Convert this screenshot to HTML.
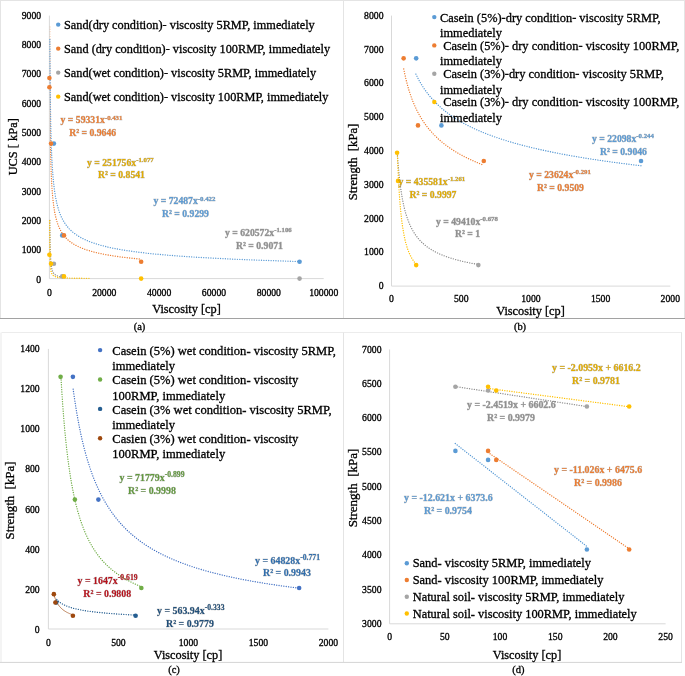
<!DOCTYPE html>
<html><head><meta charset="utf-8"><title>Figure</title>
<style>html,body{margin:0;padding:0;background:#fff;}svg{display:block;filter:blur(0.35px);}</style></head>
<body>
<svg width="685" height="676" viewBox="0 0 685 676" font-family="'Liberation Serif', 'Times New Roman', serif">
<rect width="685" height="676" fill="#fff"/>
<line x1="0.50" y1="0.00" x2="0.50" y2="318.50" stroke="#e4e4e4" stroke-width="1" />
<line x1="0.00" y1="0.50" x2="685.00" y2="0.50" stroke="#e4e4e4" stroke-width="1" />
<line x1="343.50" y1="0.00" x2="343.50" y2="318.50" stroke="#e4e4e4" stroke-width="1" />
<line x1="684.50" y1="0.00" x2="684.50" y2="318.50" stroke="#e4e4e4" stroke-width="1" />
<line x1="0.00" y1="318.50" x2="685.00" y2="318.50" stroke="#a2a2a2" stroke-width="1" />
<line x1="1.00" y1="332.50" x2="1.00" y2="662.00" stroke="#e9e9e9" stroke-width="1" />
<line x1="1.50" y1="332.50" x2="682.00" y2="332.50" stroke="#ececec" stroke-width="1" />
<line x1="343.50" y1="332.50" x2="343.50" y2="662.00" stroke="#e4e4e4" stroke-width="1" />
<line x1="681.50" y1="332.50" x2="681.50" y2="662.00" stroke="#e4e4e4" stroke-width="1" />
<line x1="0.00" y1="662.40" x2="682.00" y2="662.40" stroke="#d4d4d4" stroke-width="1" />
<polyline points="49.64,26.88 49.65,30.08 49.66,33.24 49.66,36.36 49.67,39.44 49.68,42.48 49.69,45.49 49.70,48.45 49.71,51.38 49.72,54.27 49.72,57.12 49.73,59.94 49.74,62.72 49.76,65.47 49.77,68.18 49.78,70.86 49.79,73.50 49.80,76.11 49.81,78.68 49.82,81.23 49.84,83.74 49.85,86.22 49.86,88.66 49.88,91.08 49.89,93.46 49.91,95.82 49.92,98.14 49.94,100.44 49.95,102.71 49.97,104.94 49.99,107.15 50.01,109.33 50.02,111.49 50.04,113.61 50.06,115.71 50.08,117.78 50.10,119.83 50.12,121.85 50.15,123.84 50.17,125.81 50.19,127.75 50.22,129.67 50.24,131.57 50.27,133.44 50.29,135.28 50.32,137.11 50.35,138.91 50.37,140.68 50.40,142.44 50.43,144.17 50.47,145.88 50.50,147.57 50.53,149.23 50.57,150.88 50.60,152.50 50.64,154.11 50.67,155.69 50.71,157.26 50.75,158.80 50.79,160.32 50.83,161.83 50.88,163.31 50.92,164.78 50.97,166.23 51.02,167.66 51.06,169.07 51.11,170.46 51.17,171.84 51.22,173.19 51.27,174.54 51.33,175.86 51.39,177.17 51.45,178.46 51.51,179.73 51.57,180.99 51.64,182.23 51.71,183.46 51.78,184.67 51.85,185.86 51.92,187.04 52.00,188.20 52.08,189.35 52.16,190.49 52.24,191.61 52.33,192.72 52.41,193.81 52.51,194.89 52.60,195.95 52.70,197.00 52.79,198.04 52.90,199.07 53.00,200.08 53.11,201.08 53.22,202.06 53.34,203.04 53.46,204.00 53.58,204.95 53.70,205.88 53.83,206.81 53.97,207.72 54.11,208.62 54.25,209.51 54.39,210.39 54.54,211.26 54.70,212.12 54.86,212.96 55.02,213.80 55.19,214.62 55.37,215.44 55.55,216.24 55.73,217.03 55.92,217.82 56.12,218.59 56.32,219.35 56.53,220.11 56.75,220.85 56.97,221.58 57.20,222.31 57.43,223.03 57.67,223.73 57.92,224.43 58.18,225.12 58.45,225.80 58.72,226.47 59.00,227.13 59.29,227.79 59.59,228.44 59.89,229.07 60.21,229.70 60.54,230.33 60.87,230.94 61.22,231.55 61.57,232.14 61.94,232.74 62.32,233.32 62.71,233.89 63.11,234.46 63.52,235.02 63.95,235.58 64.39,236.13 64.84,236.67 65.31,237.20 65.79,237.73 66.28,238.25 66.79,238.76 67.31,239.27 67.85,239.77 68.41,240.26 68.98,240.75 69.57,241.23 70.18,241.71 70.81,242.17 71.45,242.64 72.12,243.10 72.80,243.55 73.51,243.99 74.23,244.43 74.98,244.87 75.75,245.30 76.55,245.72 77.37,246.14 78.21,246.55 79.08,246.96 79.97,247.36 80.89,247.76 81.84,248.15 82.82,248.54 83.83,248.92 84.87,249.30 85.94,249.67 87.04,250.04 88.17,250.40 89.34,250.76 90.55,251.12 91.79,251.46 93.06,251.81 94.38,252.15 95.74,252.49 97.13,252.82 98.57,253.15 100.06,253.47 101.58,253.79 103.16,254.11 104.78,254.42 106.45,254.73 108.17,255.03 109.94,255.33 111.76,255.62 113.64,255.92 115.58,256.21 117.58,256.49 119.63,256.77 121.75,257.05 123.93,257.32 126.18,257.59 128.49,257.86 130.87,258.13 133.33,258.39 135.86,258.64 138.47,258.90 141.15,259.15" fill="none" stroke="#ED7D31" stroke-width="1.35" stroke-dasharray="0.01 2.4" stroke-linecap="round"/>
<line x1="49.40" y1="15.60" x2="49.40" y2="278.60" stroke="#d9d9d9" stroke-width="1" />
<line x1="49.40" y1="278.60" x2="323.70" y2="278.60" stroke="#d9d9d9" stroke-width="1" />
<text transform="translate(41.10 282.60) scale(1 1.035)" font-size="9.7" text-anchor="end" fill="#000" font-weight="normal"  stroke="#000" stroke-width="0.3">0</text>
<text transform="translate(41.10 253.29) scale(1 1.035)" font-size="9.7" text-anchor="end" fill="#000" font-weight="normal"  stroke="#000" stroke-width="0.3">1000</text>
<text transform="translate(41.10 223.98) scale(1 1.035)" font-size="9.7" text-anchor="end" fill="#000" font-weight="normal"  stroke="#000" stroke-width="0.3">2000</text>
<text transform="translate(41.10 194.67) scale(1 1.035)" font-size="9.7" text-anchor="end" fill="#000" font-weight="normal"  stroke="#000" stroke-width="0.3">3000</text>
<text transform="translate(41.10 165.36) scale(1 1.035)" font-size="9.7" text-anchor="end" fill="#000" font-weight="normal"  stroke="#000" stroke-width="0.3">4000</text>
<text transform="translate(41.10 136.04) scale(1 1.035)" font-size="9.7" text-anchor="end" fill="#000" font-weight="normal"  stroke="#000" stroke-width="0.3">5000</text>
<text transform="translate(41.10 106.73) scale(1 1.035)" font-size="9.7" text-anchor="end" fill="#000" font-weight="normal"  stroke="#000" stroke-width="0.3">6000</text>
<text transform="translate(41.10 77.42) scale(1 1.035)" font-size="9.7" text-anchor="end" fill="#000" font-weight="normal"  stroke="#000" stroke-width="0.3">7000</text>
<text transform="translate(41.10 48.11) scale(1 1.035)" font-size="9.7" text-anchor="end" fill="#000" font-weight="normal"  stroke="#000" stroke-width="0.3">8000</text>
<text transform="translate(41.10 18.80) scale(1 1.035)" font-size="9.7" text-anchor="end" fill="#000" font-weight="normal"  stroke="#000" stroke-width="0.3">9000</text>
<text transform="translate(49.40 295.80) scale(1 1.035)" font-size="9.7" text-anchor="middle" fill="#000" font-weight="normal"  stroke="#000" stroke-width="0.3">0</text>
<text transform="translate(104.26 295.80) scale(1 1.035)" font-size="9.7" text-anchor="middle" fill="#000" font-weight="normal"  stroke="#000" stroke-width="0.3">20000</text>
<text transform="translate(159.12 295.80) scale(1 1.035)" font-size="9.7" text-anchor="middle" fill="#000" font-weight="normal"  stroke="#000" stroke-width="0.3">40000</text>
<text transform="translate(213.98 295.80) scale(1 1.035)" font-size="9.7" text-anchor="middle" fill="#000" font-weight="normal"  stroke="#000" stroke-width="0.3">60000</text>
<text transform="translate(268.84 295.80) scale(1 1.035)" font-size="9.7" text-anchor="middle" fill="#000" font-weight="normal"  stroke="#000" stroke-width="0.3">80000</text>
<text transform="translate(323.70 295.80) scale(1 1.035)" font-size="9.7" text-anchor="middle" fill="#000" font-weight="normal"  stroke="#000" stroke-width="0.3">100000</text>
<text transform="translate(186.50 313.40) scale(1 1.035)" font-size="12.3" text-anchor="middle" fill="#000" font-weight="normal"  stroke="#000" stroke-width="0.3">Viscosity [cp]</text>
<text x="16.60" y="146.80" font-size="12.4" text-anchor="middle" fill="#000" font-weight="normal" transform="rotate(-90 16.6 146.8)" stroke="#000" stroke-width="0.3">UCS [ kPa]</text>
<text transform="translate(139.50 329.80) scale(1 1.035)" font-size="10.5" text-anchor="middle" fill="#000" font-weight="normal"  stroke="#000" stroke-width="0.3">(a)</text>
<polyline points="49.88,39.62 49.90,42.75 49.91,45.84 49.93,48.89 49.95,51.90 49.96,54.87 49.98,57.80 50.00,60.69 50.02,63.55 50.04,66.36 50.06,69.14 50.08,71.89 50.10,74.60 50.12,77.27 50.15,79.91 50.17,82.51 50.20,85.08 50.22,87.62 50.25,90.12 50.27,92.59 50.30,95.02 50.33,97.43 50.36,99.80 50.39,102.15 50.42,104.46 50.45,106.74 50.49,108.99 50.52,111.21 50.56,113.41 50.59,115.57 50.63,117.71 50.67,119.81 50.71,121.89 50.75,123.95 50.80,125.97 50.84,127.97 50.89,129.95 50.93,131.89 50.98,133.82 51.03,135.71 51.09,137.59 51.14,139.43 51.19,141.26 51.25,143.06 51.31,144.83 51.37,146.58 51.43,148.31 51.50,150.02 51.56,151.71 51.63,153.37 51.70,155.01 51.78,156.63 51.85,158.23 51.93,159.80 52.01,161.36 52.09,162.90 52.18,164.41 52.27,165.91 52.36,167.38 52.45,168.84 52.55,170.28 52.65,171.70 52.75,173.10 52.86,174.48 52.97,175.84 53.08,177.19 53.20,178.52 53.32,179.83 53.44,181.13 53.57,182.40 53.70,183.66 53.84,184.91 53.98,186.13 54.13,187.35 54.28,188.54 54.43,189.72 54.59,190.89 54.76,192.03 54.93,193.17 55.10,194.29 55.28,195.39 55.47,196.48 55.66,197.56 55.86,198.62 56.07,199.67 56.28,200.70 56.50,201.72 56.72,202.73 56.95,203.72 57.19,204.71 57.44,205.67 57.70,206.63 57.96,207.57 58.23,208.50 58.51,209.42 58.80,210.33 59.10,211.22 59.41,212.10 59.72,212.98 60.05,213.84 60.39,214.68 60.74,215.52 61.10,216.35 61.47,217.16 61.85,217.97 62.25,218.76 62.66,219.55 63.08,220.32 63.51,221.08 63.96,221.84 64.42,222.58 64.90,223.31 65.39,224.04 65.90,224.75 66.42,225.46 66.96,226.16 67.52,226.84 68.09,227.52 68.69,228.19 69.30,228.85 69.93,229.50 70.58,230.15 71.26,230.78 71.95,231.41 72.67,232.03 73.40,232.64 74.17,233.24 74.95,233.83 75.76,234.42 76.60,235.00 77.46,235.57 78.36,236.13 79.27,236.69 80.22,237.24 81.20,237.78 82.21,238.31 83.25,238.84 84.33,239.36 85.44,239.88 86.58,240.38 87.76,240.89 88.98,241.38 90.23,241.87 91.53,242.35 92.87,242.82 94.25,243.29 95.67,243.75 97.14,244.21 98.66,244.66 100.22,245.11 101.83,245.55 103.50,245.98 105.21,246.41 106.99,246.83 108.81,247.24 110.70,247.65 112.65,248.06 114.65,248.46 116.73,248.86 118.86,249.24 121.07,249.63 123.34,250.01 125.69,250.38 128.11,250.75 130.61,251.12 133.19,251.48 135.85,251.83 138.59,252.18 141.42,252.53 144.35,252.87 147.36,253.21 150.47,253.54 153.68,253.87 156.99,254.19 160.40,254.51 163.93,254.83 167.56,255.14 171.31,255.45 175.18,255.75 179.18,256.05 183.30,256.35 187.55,256.64 191.93,256.93 196.46,257.21 201.13,257.49 205.94,257.77 210.91,258.04 216.04,258.31 221.33,258.57 226.79,258.84 232.42,259.10 238.23,259.35 244.22,259.60 250.41,259.85 256.79,260.10 263.37,260.34 270.17,260.58 277.17,260.82 284.40,261.05 291.86,261.28 299.56,261.51" fill="none" stroke="#5B9BD5" stroke-width="1.35" stroke-dasharray="0.01 2.4" stroke-linecap="round"/>
<polyline points="49.89,220.50 49.90,221.56 49.91,222.60 49.92,223.62 49.93,224.62 49.94,225.60 49.95,226.57 49.95,227.52 49.96,228.45 49.97,229.36 49.98,230.26 49.99,231.14 50.00,232.00 50.01,232.85 50.02,233.68 50.03,234.50 50.04,235.31 50.05,236.09 50.07,236.87 50.08,237.63 50.09,238.37 50.10,239.11 50.11,239.83 50.12,240.53 50.14,241.23 50.15,241.91 50.16,242.58 50.17,243.23 50.19,243.88 50.20,244.51 50.21,245.13 50.23,245.74 50.24,246.34 50.25,246.93 50.27,247.50 50.28,248.07 50.30,248.62 50.31,249.17 50.33,249.71 50.34,250.23 50.36,250.75 50.38,251.26 50.39,251.76 50.41,252.24 50.43,252.72 50.44,253.20 50.46,253.66 50.48,254.11 50.50,254.56 50.51,255.00 50.53,255.43 50.55,255.85 50.57,256.26 50.59,256.67 50.61,257.07 50.63,257.46 50.65,257.85 50.67,258.22 50.69,258.60 50.72,258.96 50.74,259.32 50.76,259.67 50.78,260.01 50.81,260.35 50.83,260.68 50.85,261.01 50.88,261.33 50.90,261.65 50.93,261.95 50.95,262.26 50.98,262.56 51.01,262.85 51.03,263.13 51.06,263.42 51.09,263.69 51.12,263.96 51.15,264.23 51.18,264.49 51.21,264.75 51.24,265.00 51.27,265.25 51.30,265.49 51.33,265.73 51.36,265.97 51.39,266.20 51.43,266.42 51.46,266.64 51.50,266.86 51.53,267.08 51.57,267.29 51.60,267.49 51.64,267.69 51.68,267.89 51.72,268.09 51.76,268.28 51.79,268.47 51.83,268.65 51.88,268.83 51.92,269.01 51.96,269.19 52.00,269.36 52.05,269.53 52.09,269.69 52.14,269.85 52.18,270.01 52.23,270.17 52.28,270.32 52.32,270.47 52.37,270.62 52.42,270.77 52.47,270.91 52.52,271.05 52.58,271.19 52.63,271.32 52.68,271.45 52.74,271.58 52.80,271.71 52.85,271.84 52.91,271.96 52.97,272.08 53.03,272.20 53.09,272.32 53.15,272.43 53.21,272.54 53.28,272.65 53.34,272.76 53.41,272.87 53.48,272.97 53.54,273.08 53.61,273.18 53.68,273.28 53.76,273.37 53.83,273.47 53.90,273.56 53.98,273.65 54.06,273.74 54.13,273.83 54.21,273.92 54.29,274.00 54.38,274.09 54.46,274.17 54.54,274.25 54.63,274.33 54.72,274.41 54.81,274.48 54.90,274.56 54.99,274.63 55.08,274.70 55.18,274.78 55.28,274.84 55.37,274.91 55.47,274.98 55.58,275.05 55.68,275.11 55.78,275.17 55.89,275.24 56.00,275.30 56.11,275.36 56.22,275.42 56.34,275.48 56.45,275.53 56.57,275.59 56.69,275.64 56.82,275.70 56.94,275.75 57.07,275.80 57.19,275.85 57.32,275.90 57.46,275.95 57.59,276.00 57.73,276.05 57.87,276.09 58.01,276.14 58.16,276.18 58.30,276.23 58.45,276.27 58.60,276.31 58.76,276.36 58.91,276.40 59.07,276.44 59.24,276.48 59.40,276.51 59.57,276.55 59.74,276.59 59.91,276.63 60.09,276.66 60.27,276.70 60.45,276.73 60.64,276.77 60.82,276.80 61.01,276.83 61.21,276.87 61.41,276.90 61.61,276.93 61.81,276.96 62.02,276.99 62.23,277.02 62.45,277.05 62.67,277.07 62.89,277.10 63.12,277.13" fill="none" stroke="#8e8e8e" stroke-width="1.35" stroke-dasharray="0.01 2.4" stroke-linecap="round"/>
<polyline points="49.65,220.79 49.65,222.36 49.66,223.89 49.67,225.38 49.67,226.83 49.68,228.23 49.69,229.60 49.70,230.93 49.70,232.23 49.71,233.49 49.72,234.71 49.73,235.91 49.74,237.07 49.74,238.20 49.75,239.29 49.76,240.36 49.77,241.40 49.78,242.41 49.79,243.39 49.80,244.35 49.81,245.28 49.82,246.19 49.83,247.07 49.84,247.92 49.86,248.76 49.87,249.57 49.88,250.36 49.89,251.13 49.91,251.87 49.92,252.60 49.93,253.31 49.95,253.99 49.96,254.66 49.97,255.31 49.99,255.94 50.00,256.56 50.02,257.16 50.04,257.74 50.05,258.31 50.07,258.86 50.09,259.40 50.10,259.92 50.12,260.43 50.14,260.92 50.16,261.40 50.18,261.87 50.20,262.32 50.22,262.76 50.24,263.19 50.26,263.61 50.29,264.02 50.31,264.42 50.33,264.80 50.36,265.18 50.38,265.54 50.41,265.90 50.43,266.24 50.46,266.58 50.49,266.90 50.52,267.22 50.55,267.53 50.58,267.83 50.61,268.12 50.64,268.41 50.67,268.69 50.70,268.96 50.74,269.22 50.77,269.47 50.81,269.72 50.84,269.96 50.88,270.20 50.92,270.43 50.96,270.65 51.00,270.86 51.04,271.07 51.08,271.28 51.12,271.48 51.17,271.67 51.22,271.86 51.26,272.04 51.31,272.22 51.36,272.39 51.41,272.56 51.46,272.73 51.52,272.89 51.57,273.04 51.63,273.19 51.69,273.34 51.74,273.48 51.81,273.62 51.87,273.76 51.93,273.89 52.00,274.02 52.06,274.14 52.13,274.26 52.20,274.38 52.28,274.49 52.35,274.61 52.43,274.71 52.51,274.82 52.59,274.92 52.67,275.02 52.75,275.12 52.84,275.21 52.93,275.31 53.02,275.40 53.12,275.48 53.21,275.57 53.31,275.65 53.41,275.73 53.52,275.81 53.62,275.88 53.73,275.96 53.84,276.03 53.96,276.10 54.08,276.17 54.20,276.23 54.32,276.30 54.45,276.36 54.58,276.42 54.72,276.48 54.85,276.54 54.99,276.59 55.14,276.65 55.29,276.70 55.44,276.75 55.60,276.80 55.76,276.85 55.92,276.90 56.09,276.95 56.27,276.99 56.44,277.03 56.63,277.08 56.81,277.12 57.01,277.16 57.20,277.20 57.40,277.24 57.61,277.27 57.82,277.31 58.04,277.34 58.27,277.38 58.50,277.41 58.73,277.44 58.97,277.48 59.22,277.51 59.48,277.54 59.74,277.56 60.01,277.59 60.28,277.62 60.56,277.65 60.85,277.67 61.15,277.70 61.45,277.72 61.76,277.75 62.09,277.77 62.41,277.79 62.75,277.81 63.10,277.84 63.45,277.86 63.82,277.88 64.19,277.90 64.57,277.92 64.97,277.93 65.37,277.95 65.78,277.97 66.21,277.99 66.64,278.00 67.09,278.02 67.55,278.04 68.02,278.05 68.50,278.07 69.00,278.08 69.50,278.09 70.02,278.11 70.56,278.12 71.11,278.13 71.67,278.15 72.25,278.16 72.84,278.17 73.44,278.18 74.07,278.19 74.71,278.21 75.36,278.22 76.04,278.23 76.73,278.24 77.43,278.25 78.16,278.26 78.91,278.27 79.67,278.27 80.45,278.28 81.26,278.29 82.08,278.30 82.93,278.31 83.80,278.32 84.69,278.32 85.61,278.33 86.54,278.34 87.51,278.35 88.49,278.35 89.51,278.36 90.55,278.37" fill="none" stroke="#FFC000" stroke-width="1.35" stroke-dasharray="0.01 2.4" stroke-linecap="round"/>
<circle cx="53.90" cy="143.59" r="2.3" fill="#5B9BD5"/>
<circle cx="62.20" cy="235.41" r="2.3" fill="#5B9BD5"/>
<circle cx="299.56" cy="261.80" r="2.3" fill="#5B9BD5"/>
<circle cx="53.90" cy="263.81" r="2.3" fill="#A5A5A5"/>
<circle cx="62.20" cy="276.41" r="2.3" fill="#A5A5A5"/>
<circle cx="299.56" cy="278.60" r="2.3" fill="#A5A5A5"/>
<circle cx="49.40" cy="77.99" r="2.3" fill="#ED7D31"/>
<circle cx="49.40" cy="87.28" r="2.3" fill="#ED7D31"/>
<circle cx="51.05" cy="143.59" r="2.3" fill="#ED7D31"/>
<circle cx="63.99" cy="235.41" r="2.3" fill="#ED7D31"/>
<circle cx="141.15" cy="261.80" r="2.3" fill="#ED7D31"/>
<circle cx="49.40" cy="254.78" r="2.3" fill="#FFC000"/>
<circle cx="51.05" cy="263.81" r="2.3" fill="#FFC000"/>
<circle cx="63.99" cy="276.41" r="2.3" fill="#FFC000"/>
<circle cx="141.15" cy="278.60" r="2.3" fill="#FFC000"/>
<circle cx="58.20" cy="24.60" r="2.2" fill="#5B9BD5"/>
<text transform="translate(64.00 28.60) scale(1 1.035)" font-size="12.3" text-anchor="start" fill="#000" font-weight="normal"  stroke="#000" stroke-width="0.3">Sand(dry condition)- viscosity 5RMP, immediately</text>
<circle cx="58.20" cy="48.60" r="2.2" fill="#ED7D31"/>
<text transform="translate(64.00 52.60) scale(1 1.035)" font-size="12.3" text-anchor="start" fill="#000" font-weight="normal"  stroke="#000" stroke-width="0.3">Sand (dry condition)- viscosity 100RMP, immediately</text>
<circle cx="58.20" cy="72.60" r="2.2" fill="#A5A5A5"/>
<text transform="translate(64.00 76.60) scale(1 1.035)" font-size="12.3" text-anchor="start" fill="#000" font-weight="normal"  stroke="#000" stroke-width="0.3">Sand(wet condition)- viscosity 5RMP, immediately</text>
<circle cx="58.20" cy="96.60" r="2.2" fill="#FFC000"/>
<text transform="translate(64.00 100.60) scale(1 1.035)" font-size="12.3" text-anchor="start" fill="#000" font-weight="normal"  stroke="#000" stroke-width="0.3">Sand(wet condition)- viscosity 100RMP, immediately</text>
<text transform="translate(60.60 123.40) scale(1 1.035)" font-size="9.7" text-anchor="start" fill="#ED7D31" font-weight="bold" stroke="#333" stroke-opacity="0.38" stroke-width="0.5" paint-order="stroke">y = 59331x<tspan font-size="6.8" dy="-3.5">-0.431</tspan></text>
<text transform="translate(69.20 136.00) scale(1 1.035)" font-size="9.7" text-anchor="start" fill="#ED7D31" font-weight="bold" stroke="#333" stroke-opacity="0.38" stroke-width="0.5" paint-order="stroke">R² = 0.9646</text>
<text transform="translate(87.00 165.60) scale(1 1.035)" font-size="9.7" text-anchor="start" fill="#E2AC00" font-weight="bold" stroke="#333" stroke-opacity="0.38" stroke-width="0.5" paint-order="stroke">y = 251756x<tspan font-size="6.8" dy="-3.5">-1.077</tspan></text>
<text transform="translate(98.00 178.20) scale(1 1.035)" font-size="9.7" text-anchor="start" fill="#E2AC00" font-weight="bold" stroke="#333" stroke-opacity="0.38" stroke-width="0.5" paint-order="stroke">R² = 0.8541</text>
<text transform="translate(153.50 204.30) scale(1 1.035)" font-size="9.7" text-anchor="start" fill="#5B9BD5" font-weight="bold" stroke="#333" stroke-opacity="0.38" stroke-width="0.5" paint-order="stroke">y = 72487x<tspan font-size="6.8" dy="-3.5">-0.422</tspan></text>
<text transform="translate(162.00 216.90) scale(1 1.035)" font-size="9.7" text-anchor="start" fill="#5B9BD5" font-weight="bold" stroke="#333" stroke-opacity="0.38" stroke-width="0.5" paint-order="stroke">R² = 0.9299</text>
<text transform="translate(225.00 236.00) scale(1 1.035)" font-size="9.7" text-anchor="start" fill="#909090" font-weight="bold" stroke="#333" stroke-opacity="0.38" stroke-width="0.5" paint-order="stroke">y = 620572x<tspan font-size="6.8" dy="-3.5">-1.106</tspan></text>
<text transform="translate(236.00 248.60) scale(1 1.035)" font-size="9.7" text-anchor="start" fill="#909090" font-weight="bold" stroke="#333" stroke-opacity="0.38" stroke-width="0.5" paint-order="stroke">R² = 0.9071</text>
<line x1="391.50" y1="15.60" x2="391.50" y2="286.10" stroke="#d9d9d9" stroke-width="1" />
<line x1="391.50" y1="286.10" x2="670.30" y2="286.10" stroke="#d9d9d9" stroke-width="1" />
<text transform="translate(383.50 289.30) scale(1 1.035)" font-size="9.7" text-anchor="end" fill="#000" font-weight="normal"  stroke="#000" stroke-width="0.3">0</text>
<text transform="translate(383.50 255.49) scale(1 1.035)" font-size="9.7" text-anchor="end" fill="#000" font-weight="normal"  stroke="#000" stroke-width="0.3">1000</text>
<text transform="translate(383.50 221.68) scale(1 1.035)" font-size="9.7" text-anchor="end" fill="#000" font-weight="normal"  stroke="#000" stroke-width="0.3">2000</text>
<text transform="translate(383.50 187.86) scale(1 1.035)" font-size="9.7" text-anchor="end" fill="#000" font-weight="normal"  stroke="#000" stroke-width="0.3">3000</text>
<text transform="translate(383.50 154.05) scale(1 1.035)" font-size="9.7" text-anchor="end" fill="#000" font-weight="normal"  stroke="#000" stroke-width="0.3">4000</text>
<text transform="translate(383.50 120.24) scale(1 1.035)" font-size="9.7" text-anchor="end" fill="#000" font-weight="normal"  stroke="#000" stroke-width="0.3">5000</text>
<text transform="translate(383.50 86.42) scale(1 1.035)" font-size="9.7" text-anchor="end" fill="#000" font-weight="normal"  stroke="#000" stroke-width="0.3">6000</text>
<text transform="translate(383.50 52.61) scale(1 1.035)" font-size="9.7" text-anchor="end" fill="#000" font-weight="normal"  stroke="#000" stroke-width="0.3">7000</text>
<text transform="translate(383.50 18.80) scale(1 1.035)" font-size="9.7" text-anchor="end" fill="#000" font-weight="normal"  stroke="#000" stroke-width="0.3">8000</text>
<text transform="translate(391.50 301.80) scale(1 1.035)" font-size="9.7" text-anchor="middle" fill="#000" font-weight="normal"  stroke="#000" stroke-width="0.3">0</text>
<text transform="translate(461.20 301.80) scale(1 1.035)" font-size="9.7" text-anchor="middle" fill="#000" font-weight="normal"  stroke="#000" stroke-width="0.3">500</text>
<text transform="translate(530.90 301.80) scale(1 1.035)" font-size="9.7" text-anchor="middle" fill="#000" font-weight="normal"  stroke="#000" stroke-width="0.3">1000</text>
<text transform="translate(600.60 301.80) scale(1 1.035)" font-size="9.7" text-anchor="middle" fill="#000" font-weight="normal"  stroke="#000" stroke-width="0.3">1500</text>
<text transform="translate(670.30 301.80) scale(1 1.035)" font-size="9.7" text-anchor="middle" fill="#000" font-weight="normal"  stroke="#000" stroke-width="0.3">2000</text>
<text transform="translate(530.50 315.20) scale(1 1.035)" font-size="12.3" text-anchor="middle" fill="#000" font-weight="normal"  stroke="#000" stroke-width="0.3">Viscosity [cp]</text>
<text x="357.00" y="162.00" font-size="12.65" text-anchor="middle" fill="#000" font-weight="normal" transform="rotate(-90 357 162)" stroke="#000" stroke-width="0.3">Strength&#160;&#160;[kPa]</text>
<text transform="translate(520.00 329.80) scale(1 1.035)" font-size="10.5" text-anchor="middle" fill="#000" font-weight="normal"  stroke="#000" stroke-width="0.3">(b)</text>
<polyline points="415.89,74.11 416.18,74.71 416.47,75.31 416.76,75.91 417.06,76.50 417.36,77.09 417.66,77.69 417.96,78.27 418.27,78.86 418.59,79.45 418.90,80.03 419.22,80.61 419.55,81.20 419.88,81.77 420.21,82.35 420.54,82.93 420.88,83.50 421.23,84.08 421.57,84.65 421.93,85.22 422.28,85.78 422.64,86.35 423.01,86.92 423.37,87.48 423.75,88.04 424.12,88.60 424.50,89.16 424.89,89.71 425.28,90.27 425.68,90.82 426.08,91.38 426.48,91.93 426.89,92.48 427.30,93.02 427.72,93.57 428.15,94.11 428.57,94.66 429.01,95.20 429.45,95.74 429.89,96.27 430.34,96.81 430.79,97.35 431.25,97.88 431.72,98.41 432.19,98.94 432.66,99.47 433.14,100.00 433.63,100.52 434.12,101.05 434.62,101.57 435.13,102.09 435.64,102.61 436.15,103.13 436.68,103.65 437.20,104.17 437.74,104.68 438.28,105.19 438.83,105.70 439.38,106.21 439.94,106.72 440.51,107.23 441.08,107.73 441.66,108.24 442.24,108.74 442.84,109.24 443.44,109.74 444.05,110.24 444.66,110.74 445.28,111.23 445.91,111.73 446.55,112.22 447.19,112.71 447.84,113.20 448.50,113.69 449.17,114.18 449.84,114.66 450.52,115.15 451.21,115.63 451.91,116.11 452.62,116.59 453.33,117.07 454.06,117.55 454.79,118.03 455.53,118.50 456.28,118.98 457.03,119.45 457.80,119.92 458.58,120.39 459.36,120.86 460.15,121.32 460.96,121.79 461.77,122.25 462.59,122.72 463.42,123.18 464.26,123.64 465.11,124.10 465.98,124.56 466.85,125.01 467.73,125.47 468.62,125.92 469.52,126.37 470.43,126.82 471.36,127.27 472.29,127.72 473.23,128.17 474.19,128.62 475.16,129.06 476.14,129.51 477.13,129.95 478.13,130.39 479.14,130.83 480.16,131.27 481.20,131.71 482.25,132.14 483.31,132.58 484.38,133.01 485.47,133.44 486.57,133.87 487.68,134.30 488.81,134.73 489.94,135.16 491.10,135.59 492.26,136.01 493.44,136.44 494.63,136.86 495.84,137.28 497.06,137.70 498.29,138.12 499.54,138.54 500.80,138.96 502.08,139.37 503.37,139.79 504.68,140.20 506.01,140.61 507.34,141.02 508.70,141.43 510.07,141.84 511.46,142.25 512.86,142.65 514.28,143.06 515.71,143.46 517.17,143.87 518.64,144.27 520.12,144.67 521.63,145.07 523.15,145.47 524.69,145.86 526.25,146.26 527.82,146.66 529.42,147.05 531.03,147.44 532.66,147.83 534.31,148.22 535.98,148.61 537.67,149.00 539.38,149.39 541.11,149.78 542.86,150.16 544.63,150.54 546.42,150.93 548.23,151.31 550.06,151.69 551.92,152.07 553.79,152.45 555.69,152.83 557.61,153.20 559.55,153.58 561.52,153.95 563.51,154.32 565.52,154.70 567.55,155.07 569.61,155.44 571.69,155.81 573.80,156.17 575.93,156.54 578.09,156.91 580.27,157.27 582.48,157.64 584.71,158.00 586.97,158.36 589.26,158.72 591.57,159.08 593.91,159.44 596.28,159.80 598.67,160.15 601.09,160.51 603.55,160.86 606.02,161.22 608.53,161.57 611.07,161.92 613.64,162.27 616.24,162.62 618.86,162.97 621.52,163.32 624.21,163.67 626.93,164.01 629.69,164.36 632.47,164.70 635.29,165.04 638.14,165.38 641.03,165.72" fill="none" stroke="#5B9BD5" stroke-width="1.35" stroke-dasharray="0.01 2.4" stroke-linecap="round"/>
<polyline points="403.77,68.96 403.89,69.59 404.02,70.23 404.14,70.86 404.27,71.49 404.40,72.12 404.53,72.74 404.66,73.37 404.80,73.99 404.93,74.61 405.07,75.23 405.21,75.85 405.35,76.46 405.49,77.07 405.63,77.69 405.77,78.30 405.92,78.90 406.06,79.51 406.21,80.12 406.36,80.72 406.51,81.32 406.66,81.92 406.82,82.52 406.97,83.11 407.13,83.71 407.29,84.30 407.45,84.89 407.61,85.48 407.77,86.06 407.94,86.65 408.10,87.23 408.27,87.81 408.44,88.39 408.61,88.97 408.79,89.55 408.96,90.12 409.14,90.70 409.32,91.27 409.50,91.84 409.68,92.41 409.87,92.97 410.05,93.54 410.24,94.10 410.43,94.66 410.62,95.22 410.82,95.78 411.01,96.34 411.21,96.90 411.41,97.45 411.61,98.00 411.82,98.55 412.02,99.10 412.23,99.65 412.44,100.19 412.65,100.74 412.87,101.28 413.08,101.82 413.30,102.36 413.52,102.90 413.75,103.43 413.97,103.97 414.20,104.50 414.43,105.03 414.66,105.56 414.90,106.09 415.14,106.61 415.38,107.14 415.62,107.66 415.86,108.19 416.11,108.71 416.36,109.22 416.61,109.74 416.87,110.26 417.12,110.77 417.38,111.28 417.64,111.80 417.91,112.31 418.18,112.81 418.45,113.32 418.72,113.83 419.00,114.33 419.28,114.83 419.56,115.33 419.84,115.83 420.13,116.33 420.42,116.83 420.71,117.32 421.01,117.82 421.31,118.31 421.61,118.80 421.92,119.29 422.23,119.78 422.54,120.26 422.85,120.75 423.17,121.23 423.49,121.71 423.82,122.19 424.14,122.67 424.47,123.15 424.81,123.63 425.15,124.10 425.49,124.58 425.83,125.05 426.18,125.52 426.53,125.99 426.89,126.46 427.25,126.93 427.61,127.39 427.97,127.86 428.34,128.32 428.72,128.78 429.10,129.24 429.48,129.70 429.86,130.16 430.25,130.61 430.64,131.07 431.04,131.52 431.44,131.97 431.85,132.42 432.26,132.87 432.67,133.32 433.09,133.77 433.51,134.21 433.93,134.66 434.36,135.10 434.80,135.54 435.24,135.98 435.68,136.42 436.13,136.86 436.58,137.29 437.04,137.73 437.50,138.16 437.97,138.60 438.44,139.03 438.92,139.46 439.40,139.89 439.88,140.31 440.37,140.74 440.87,141.16 441.37,141.59 441.87,142.01 442.39,142.43 442.90,142.85 443.42,143.27 443.95,143.69 444.48,144.10 445.02,144.52 445.56,144.93 446.11,145.35 446.66,145.76 447.22,146.17 447.79,146.58 448.36,146.98 448.93,147.39 449.52,147.80 450.11,148.20 450.70,148.60 451.30,149.01 451.91,149.41 452.52,149.81 453.14,150.20 453.76,150.60 454.39,151.00 455.03,151.39 455.68,151.79 456.33,152.18 456.98,152.57 457.65,152.96 458.32,153.35 459.00,153.74 459.68,154.13 460.37,154.51 461.07,154.90 461.78,155.28 462.49,155.66 463.21,156.04 463.94,156.42 464.67,156.80 465.41,157.18 466.16,157.56 466.92,157.93 467.68,158.31 468.46,158.68 469.24,159.05 470.03,159.42 470.82,159.79 471.63,160.16 472.44,160.53 473.26,160.90 474.09,161.26 474.93,161.63 475.77,161.99 476.63,162.36 477.49,162.72 478.36,163.08 479.24,163.44 480.13,163.80 481.03,164.15 481.94,164.51 482.86,164.86 483.78,165.22" fill="none" stroke="#ED7D31" stroke-width="1.35" stroke-dasharray="0.01 2.4" stroke-linecap="round"/>
<polyline points="397.35,153.36 397.43,154.57 397.51,155.76 397.60,156.94 397.68,158.11 397.76,159.27 397.85,160.43 397.93,161.57 398.02,162.70 398.11,163.81 398.20,164.92 398.29,166.02 398.38,167.11 398.48,168.19 398.57,169.26 398.67,170.32 398.76,171.37 398.86,172.41 398.96,173.44 399.06,174.46 399.17,175.48 399.27,176.48 399.38,177.47 399.48,178.46 399.59,179.43 399.70,180.40 399.81,181.36 399.93,182.31 400.04,183.25 400.16,184.18 400.27,185.11 400.39,186.02 400.51,186.93 400.64,187.83 400.76,188.72 400.89,189.60 401.01,190.48 401.14,191.34 401.27,192.20 401.41,193.05 401.54,193.89 401.68,194.73 401.82,195.56 401.96,196.38 402.10,197.19 402.24,198.00 402.39,198.80 402.53,199.59 402.68,200.37 402.84,201.15 402.99,201.92 403.15,202.68 403.30,203.43 403.46,204.18 403.63,204.92 403.79,205.66 403.96,206.39 404.13,207.11 404.30,207.83 404.47,208.53 404.65,209.24 404.83,209.93 405.01,210.62 405.19,211.30 405.38,211.98 405.57,212.65 405.76,213.32 405.95,213.98 406.15,214.63 406.35,215.28 406.55,215.92 406.75,216.55 406.96,217.18 407.17,217.80 407.38,218.42 407.60,219.03 407.81,219.64 408.04,220.24 408.26,220.84 408.49,221.43 408.72,222.01 408.95,222.59 409.19,223.17 409.43,223.74 409.67,224.30 409.92,224.86 410.17,225.41 410.42,225.96 410.68,226.51 410.94,227.04 411.20,227.58 411.47,228.11 411.74,228.63 412.02,229.15 412.30,229.66 412.58,230.17 412.87,230.68 413.16,231.18 413.45,231.68 413.75,232.17 414.05,232.66 414.36,233.14 414.67,233.62 414.98,234.09 415.30,234.56 415.62,235.03 415.95,235.49 416.28,235.94 416.62,236.40 416.96,236.85 417.30,237.29 417.65,237.73 418.01,238.17 418.37,238.60 418.73,239.03 419.10,239.45 419.48,239.87 419.86,240.29 420.24,240.70 420.63,241.11 421.03,241.52 421.43,241.92 421.84,242.32 422.25,242.72 422.67,243.11 423.09,243.49 423.52,243.88 423.95,244.26 424.39,244.64 424.84,245.01 425.29,245.38 425.75,245.75 426.22,246.11 426.69,246.47 427.16,246.83 427.65,247.18 428.14,247.53 428.64,247.88 429.14,248.22 429.65,248.56 430.17,248.90 430.70,249.24 431.23,249.57 431.77,249.90 432.31,250.22 432.87,250.55 433.43,250.87 434.00,251.18 434.58,251.50 435.16,251.81 435.75,252.12 436.35,252.42 436.96,252.73 437.58,253.03 438.21,253.32 438.84,253.62 439.48,253.91 440.13,254.20 440.79,254.49 441.46,254.77 442.14,255.05 442.83,255.33 443.53,255.61 444.23,255.88 444.95,256.15 445.67,256.42 446.41,256.69 447.15,256.95 447.91,257.21 448.68,257.47 449.45,257.73 450.24,257.98 451.04,258.24 451.84,258.49 452.66,258.73 453.49,258.98 454.34,259.22 455.19,259.46 456.05,259.70 456.93,259.94 457.82,260.17 458.72,260.41 459.63,260.64 460.56,260.86 461.49,261.09 462.44,261.31 463.41,261.54 464.38,261.76 465.37,261.97 466.37,262.19 467.39,262.40 468.42,262.62 469.47,262.83 470.52,263.03 471.60,263.24 472.68,263.44 473.79,263.65 474.90,263.85 476.04,264.05 477.18,264.24 478.35,264.44" fill="none" stroke="#8e8e8e" stroke-width="1.35" stroke-dasharray="0.01 2.4" stroke-linecap="round"/>
<polyline points="397.35,153.70 397.40,154.89 397.44,156.07 397.48,157.24 397.53,158.40 397.57,159.55 397.61,160.69 397.66,161.82 397.70,162.93 397.75,164.04 397.79,165.14 397.84,166.23 397.88,167.31 397.93,168.38 397.98,169.44 398.02,170.49 398.07,171.53 398.12,172.56 398.16,173.58 398.21,174.59 398.26,175.59 398.31,176.59 398.36,177.57 398.41,178.55 398.46,179.52 398.51,180.48 398.56,181.43 398.61,182.37 398.66,183.30 398.71,184.23 398.76,185.14 398.82,186.05 398.87,186.95 398.92,187.84 398.98,188.72 399.03,189.60 399.09,190.47 399.14,191.33 399.20,192.18 399.25,193.02 399.31,193.86 399.36,194.69 399.42,195.51 399.48,196.33 399.53,197.13 399.59,197.93 399.65,198.72 399.71,199.51 399.77,200.29 399.83,201.06 399.89,201.82 399.95,202.58 400.01,203.33 400.07,204.07 400.13,204.81 400.20,205.54 400.26,206.27 400.32,206.98 400.39,207.69 400.45,208.40 400.51,209.10 400.58,209.79 400.64,210.47 400.71,211.15 400.78,211.82 400.84,212.49 400.91,213.15 400.98,213.81 401.05,214.46 401.12,215.10 401.19,215.74 401.26,216.37 401.33,217.00 401.40,217.62 401.47,218.23 401.54,218.84 401.61,219.44 401.69,220.04 401.76,220.63 401.83,221.22 401.91,221.80 401.98,222.38 402.06,222.95 402.14,223.52 402.21,224.08 402.29,224.64 402.37,225.19 402.45,225.73 402.53,226.28 402.60,226.81 402.69,227.34 402.77,227.87 402.85,228.39 402.93,228.91 403.01,229.42 403.09,229.93 403.18,230.43 403.26,230.93 403.35,231.43 403.43,231.92 403.52,232.40 403.61,232.88 403.69,233.36 403.78,233.83 403.87,234.30 403.96,234.77 404.05,235.23 404.14,235.68 404.23,236.13 404.32,236.58 404.42,237.02 404.51,237.46 404.60,237.90 404.70,238.33 404.79,238.76 404.89,239.18 404.99,239.60 405.08,240.02 405.18,240.43 405.28,240.84 405.38,241.25 405.48,241.65 405.58,242.04 405.68,242.44 405.78,242.83 405.89,243.22 405.99,243.60 406.10,243.98 406.20,244.36 406.31,244.73 406.41,245.10 406.52,245.47 406.63,245.83 406.74,246.19 406.85,246.55 406.96,246.90 407.07,247.25 407.18,247.60 407.30,247.94 407.41,248.28 407.53,248.62 407.64,248.95 407.76,249.29 407.88,249.62 407.99,249.94 408.11,250.26 408.23,250.58 408.35,250.90 408.47,251.21 408.60,251.53 408.72,251.83 408.85,252.14 408.97,252.44 409.10,252.74 409.22,253.04 409.35,253.34 409.48,253.63 409.61,253.92 409.74,254.20 409.87,254.49 410.01,254.77 410.14,255.05 410.27,255.33 410.41,255.60 410.55,255.87 410.68,256.14 410.82,256.41 410.96,256.67 411.10,256.94 411.24,257.20 411.39,257.45 411.53,257.71 411.67,257.96 411.82,258.21 411.97,258.46 412.11,258.71 412.26,258.95 412.41,259.19 412.56,259.43 412.71,259.67 412.87,259.90 413.02,260.13 413.18,260.37 413.33,260.59 413.49,260.82 413.65,261.05 413.81,261.27 413.97,261.49 414.13,261.71 414.30,261.92 414.46,262.14 414.63,262.35 414.79,262.56 414.96,262.77 415.13,262.98 415.30,263.18 415.47,263.39 415.65,263.59 415.82,263.79 416.00,263.99 416.17,264.18" fill="none" stroke="#FFC000" stroke-width="1.35" stroke-dasharray="0.01 2.4" stroke-linecap="round"/>
<circle cx="416.17" cy="58.34" r="2.3" fill="#5B9BD5"/>
<circle cx="441.41" cy="125.40" r="2.3" fill="#5B9BD5"/>
<circle cx="641.03" cy="161.05" r="2.3" fill="#5B9BD5"/>
<circle cx="403.63" cy="58.34" r="2.3" fill="#ED7D31"/>
<circle cx="417.99" cy="125.40" r="2.3" fill="#ED7D31"/>
<circle cx="483.78" cy="161.05" r="2.3" fill="#ED7D31"/>
<circle cx="478.35" cy="265.10" r="2.3" fill="#A5A5A5"/>
<circle cx="397.08" cy="152.74" r="2.3" fill="#FFC000"/>
<circle cx="398.05" cy="180.90" r="2.3" fill="#FFC000"/>
<circle cx="416.17" cy="265.10" r="2.3" fill="#FFC000"/>
<circle cx="434.30" cy="17.10" r="2.2" fill="#5B9BD5"/>
<text transform="translate(440.00 21.50) scale(1 1.035)" font-size="12.4" text-anchor="start" fill="#000" font-weight="normal"  stroke="#000" stroke-width="0.3">Casein (5%)-dry condition- viscosity 5RMP,</text>
<text transform="translate(440.00 37.10) scale(1 1.035)" font-size="12.4" text-anchor="start" fill="#000" font-weight="normal"  stroke="#000" stroke-width="0.3">immediately</text>
<circle cx="434.30" cy="45.40" r="2.2" fill="#ED7D31"/>
<text transform="translate(443.20 49.80) scale(1 1.035)" font-size="12.4" text-anchor="start" fill="#000" font-weight="normal"  stroke="#000" stroke-width="0.3">Casein (5%)- dry condition- viscosity 100RMP,</text>
<text transform="translate(440.00 65.40) scale(1 1.035)" font-size="12.4" text-anchor="start" fill="#000" font-weight="normal"  stroke="#000" stroke-width="0.3">immediately</text>
<circle cx="434.30" cy="73.70" r="2.2" fill="#A5A5A5"/>
<text transform="translate(443.20 78.10) scale(1 1.035)" font-size="12.4" text-anchor="start" fill="#000" font-weight="normal"  stroke="#000" stroke-width="0.3">Casein (3%)-dry condition- viscosity 5RMP,</text>
<text transform="translate(440.00 93.70) scale(1 1.035)" font-size="12.4" text-anchor="start" fill="#000" font-weight="normal"  stroke="#000" stroke-width="0.3">immediately</text>
<circle cx="434.30" cy="102.00" r="2.2" fill="#FFC000"/>
<text transform="translate(443.20 106.40) scale(1 1.035)" font-size="12.4" text-anchor="start" fill="#000" font-weight="normal"  stroke="#000" stroke-width="0.3">Casein (3%)- dry condition- viscosity 100RMP,</text>
<text transform="translate(440.00 122.00) scale(1 1.035)" font-size="12.4" text-anchor="start" fill="#000" font-weight="normal"  stroke="#000" stroke-width="0.3">immediately</text>
<text transform="translate(592.00 142.00) scale(1 1.035)" font-size="9.7" text-anchor="start" fill="#5B9BD5" font-weight="bold" stroke="#333" stroke-opacity="0.38" stroke-width="0.5" paint-order="stroke">y = 22098x<tspan font-size="6.8" dy="-3.5">-0.244</tspan></text>
<text transform="translate(600.00 154.60) scale(1 1.035)" font-size="9.7" text-anchor="start" fill="#5B9BD5" font-weight="bold" stroke="#333" stroke-opacity="0.38" stroke-width="0.5" paint-order="stroke">R² = 0.9046</text>
<text transform="translate(529.00 178.00) scale(1 1.035)" font-size="9.7" text-anchor="start" fill="#ED7D31" font-weight="bold" stroke="#333" stroke-opacity="0.38" stroke-width="0.5" paint-order="stroke">y = 23624x<tspan font-size="6.8" dy="-3.5">-0.291</tspan></text>
<text transform="translate(537.00 190.60) scale(1 1.035)" font-size="9.7" text-anchor="start" fill="#ED7D31" font-weight="bold" stroke="#333" stroke-opacity="0.38" stroke-width="0.5" paint-order="stroke">R² = 0.9509</text>
<text transform="translate(398.50 185.00) scale(1 1.035)" font-size="9.7" text-anchor="start" fill="#E2AC00" font-weight="bold" stroke="#333" stroke-opacity="0.38" stroke-width="0.5" paint-order="stroke">y = 435581x<tspan font-size="6.8" dy="-3.5">-1.261</tspan></text>
<text transform="translate(409.50 197.60) scale(1 1.035)" font-size="9.7" text-anchor="start" fill="#E2AC00" font-weight="bold" stroke="#333" stroke-opacity="0.38" stroke-width="0.5" paint-order="stroke">R² = 0.9997</text>
<text transform="translate(436.00 224.50) scale(1 1.035)" font-size="9.7" text-anchor="start" fill="#909090" font-weight="bold" stroke="#333" stroke-opacity="0.38" stroke-width="0.5" paint-order="stroke">y = 49410x<tspan font-size="6.8" dy="-3.5">-0.678</tspan></text>
<text transform="translate(455.00 237.10) scale(1 1.035)" font-size="9.7" text-anchor="start" fill="#909090" font-weight="bold" stroke="#333" stroke-opacity="0.38" stroke-width="0.5" paint-order="stroke">R² = 1</text>
<line x1="48.40" y1="348.90" x2="48.40" y2="629.00" stroke="#d9d9d9" stroke-width="1" />
<line x1="48.40" y1="629.00" x2="328.40" y2="629.00" stroke="#d9d9d9" stroke-width="1" />
<text transform="translate(39.70 632.90) scale(1 1.06)" font-size="9.7" text-anchor="end" fill="#000" font-weight="normal"  stroke="#000" stroke-width="0.3">0</text>
<text transform="translate(39.70 592.79) scale(1 1.06)" font-size="9.7" text-anchor="end" fill="#000" font-weight="normal"  stroke="#000" stroke-width="0.3">200</text>
<text transform="translate(39.70 552.67) scale(1 1.06)" font-size="9.7" text-anchor="end" fill="#000" font-weight="normal"  stroke="#000" stroke-width="0.3">400</text>
<text transform="translate(39.70 512.56) scale(1 1.06)" font-size="9.7" text-anchor="end" fill="#000" font-weight="normal"  stroke="#000" stroke-width="0.3">600</text>
<text transform="translate(39.70 472.44) scale(1 1.06)" font-size="9.7" text-anchor="end" fill="#000" font-weight="normal"  stroke="#000" stroke-width="0.3">800</text>
<text transform="translate(39.70 432.33) scale(1 1.06)" font-size="9.7" text-anchor="end" fill="#000" font-weight="normal"  stroke="#000" stroke-width="0.3">1000</text>
<text transform="translate(39.70 392.21) scale(1 1.06)" font-size="9.7" text-anchor="end" fill="#000" font-weight="normal"  stroke="#000" stroke-width="0.3">1200</text>
<text transform="translate(39.70 352.10) scale(1 1.06)" font-size="9.7" text-anchor="end" fill="#000" font-weight="normal"  stroke="#000" stroke-width="0.3">1400</text>
<text transform="translate(48.40 646.30) scale(1 1.06)" font-size="9.7" text-anchor="middle" fill="#000" font-weight="normal"  stroke="#000" stroke-width="0.3">0</text>
<text transform="translate(118.40 646.30) scale(1 1.06)" font-size="9.7" text-anchor="middle" fill="#000" font-weight="normal"  stroke="#000" stroke-width="0.3">500</text>
<text transform="translate(188.40 646.30) scale(1 1.06)" font-size="9.7" text-anchor="middle" fill="#000" font-weight="normal"  stroke="#000" stroke-width="0.3">1000</text>
<text transform="translate(258.40 646.30) scale(1 1.06)" font-size="9.7" text-anchor="middle" fill="#000" font-weight="normal"  stroke="#000" stroke-width="0.3">1500</text>
<text transform="translate(328.40 646.30) scale(1 1.06)" font-size="9.7" text-anchor="middle" fill="#000" font-weight="normal"  stroke="#000" stroke-width="0.3">2000</text>
<text transform="translate(188.00 658.50) scale(1 1.06)" font-size="12.3" text-anchor="middle" fill="#000" font-weight="normal"  stroke="#000" stroke-width="0.3">Viscosity [cp]</text>
<text x="13.80" y="500.50" font-size="12.9" text-anchor="middle" fill="#000" font-weight="normal" transform="rotate(-90 13.8 500.5)" stroke="#000" stroke-width="0.3">Strength&#160;&#160;[kPa]</text>
<text transform="translate(174.00 673.00) scale(1 1.06)" font-size="10.5" text-anchor="middle" fill="#000" font-weight="normal"  stroke="#000" stroke-width="0.3">(c)</text>
<polyline points="73.18,389.15 73.47,391.27 73.76,393.38 74.06,395.46 74.35,397.53 74.66,399.58 74.96,401.61 75.27,403.63 75.58,405.62 75.90,407.60 76.22,409.56 76.54,411.50 76.87,413.43 77.20,415.34 77.54,417.23 77.88,419.10 78.22,420.96 78.57,422.80 78.92,424.63 79.27,426.44 79.63,428.23 80.00,430.01 80.36,431.77 80.74,433.52 81.11,435.25 81.49,436.96 81.88,438.66 82.27,440.34 82.66,442.01 83.06,443.67 83.46,445.31 83.87,446.93 84.29,448.54 84.70,450.14 85.13,451.72 85.55,453.29 85.99,454.85 86.42,456.39 86.87,457.91 87.31,459.43 87.77,460.93 88.22,462.41 88.69,463.89 89.16,465.35 89.63,466.80 90.11,468.23 90.60,469.65 91.09,471.06 91.58,472.46 92.09,473.84 92.60,475.21 93.11,476.57 93.63,477.92 94.16,479.26 94.69,480.58 95.23,481.89 95.77,483.19 96.32,484.48 96.88,485.76 97.45,487.03 98.02,488.28 98.60,489.52 99.18,490.76 99.77,491.98 100.37,493.19 100.97,494.39 101.59,495.58 102.20,496.76 102.83,497.93 103.46,499.08 104.10,500.23 104.75,501.37 105.41,502.50 106.07,503.61 106.74,504.72 107.42,505.82 108.11,506.91 108.81,507.99 109.51,509.05 110.22,510.11 110.94,511.16 111.67,512.20 112.40,513.23 113.15,514.26 113.90,515.27 114.66,516.27 115.44,517.27 116.22,518.25 117.00,519.23 117.80,520.20 118.61,521.16 119.43,522.11 120.26,523.06 121.09,523.99 121.94,524.92 122.79,525.84 123.66,526.75 124.54,527.65 125.42,528.54 126.32,529.43 127.22,530.31 128.14,531.18 129.07,532.04 130.01,532.89 130.96,533.74 131.92,534.58 132.89,535.41 133.88,536.24 134.87,537.06 135.88,537.87 136.89,538.67 137.92,539.47 138.97,540.26 140.02,541.04 141.09,541.81 142.17,542.58 143.26,543.34 144.36,544.10 145.48,544.84 146.61,545.59 147.75,546.32 148.91,547.05 150.08,547.77 151.26,548.49 152.46,549.19 153.67,549.90 154.89,550.59 156.13,551.28 157.39,551.97 158.66,552.65 159.94,553.32 161.24,553.98 162.55,554.64 163.88,555.30 165.22,555.95 166.58,556.59 167.96,557.23 169.35,557.86 170.76,558.48 172.18,559.10 173.62,559.72 175.08,560.33 176.56,560.93 178.05,561.53 179.56,562.12 181.08,562.71 182.63,563.29 184.19,563.87 185.77,564.44 187.37,565.01 188.99,565.57 190.62,566.13 192.28,566.68 193.95,567.23 195.65,567.77 197.36,568.31 199.09,568.84 200.85,569.37 202.62,569.89 204.42,570.41 206.23,570.93 208.07,571.44 209.93,571.94 211.81,572.44 213.71,572.94 215.64,573.43 217.58,573.92 219.55,574.40 221.54,574.88 223.56,575.35 225.60,575.82 227.66,576.29 229.75,576.75 231.86,577.21 233.99,577.66 236.15,578.11 238.34,578.56 240.55,579.00 242.78,579.44 245.05,579.87 247.34,580.30 249.65,580.73 251.99,581.15 254.36,581.57 256.76,581.99 259.18,582.40 261.64,582.80 264.12,583.21 266.63,583.61 269.17,584.01 271.74,584.40 274.34,584.79 276.97,585.18 279.63,585.56 282.32,585.94 285.04,586.31 287.80,586.69 290.58,587.06 293.40,587.42 296.26,587.79 299.14,588.15" fill="none" stroke="#4472C4" stroke-width="1.35" stroke-dasharray="0.01 2.4" stroke-linecap="round"/>
<polyline points="61.00,377.56 61.13,379.80 61.25,382.02 61.38,384.22 61.51,386.41 61.65,388.57 61.78,390.71 61.91,392.84 62.05,394.94 62.19,397.03 62.32,399.10 62.46,401.15 62.61,403.18 62.75,405.19 62.89,407.19 63.04,409.16 63.18,411.12 63.33,413.07 63.48,414.99 63.63,416.90 63.79,418.79 63.94,420.66 64.10,422.52 64.26,424.36 64.41,426.18 64.58,427.99 64.74,429.78 64.90,431.56 65.07,433.32 65.24,435.06 65.40,436.79 65.58,438.50 65.75,440.20 65.92,441.88 66.10,443.55 66.28,445.20 66.45,446.84 66.64,448.46 66.82,450.07 67.00,451.66 67.19,453.24 67.38,454.81 67.57,456.36 67.76,457.90 67.96,459.42 68.15,460.93 68.35,462.43 68.55,463.91 68.76,465.38 68.96,466.84 69.17,468.28 69.37,469.71 69.59,471.13 69.80,472.54 70.01,473.93 70.23,475.31 70.45,476.68 70.67,478.04 70.89,479.38 71.12,480.71 71.35,482.03 71.58,483.34 71.81,484.64 72.05,485.92 72.28,487.19 72.52,488.46 72.77,489.71 73.01,490.95 73.26,492.17 73.51,493.39 73.76,494.60 74.01,495.79 74.27,496.98 74.53,498.15 74.79,499.32 75.06,500.47 75.33,501.61 75.60,502.75 75.87,503.87 76.15,504.98 76.42,506.08 76.71,507.18 76.99,508.26 77.28,509.33 77.57,510.40 77.86,511.45 78.16,512.50 78.46,513.53 78.76,514.56 79.06,515.58 79.37,516.58 79.68,517.58 79.99,518.57 80.31,519.56 80.63,520.53 80.96,521.49 81.28,522.45 81.61,523.39 81.95,524.33 82.28,525.26 82.62,526.18 82.97,527.10 83.32,528.00 83.67,528.90 84.02,529.79 84.38,530.67 84.74,531.54 85.10,532.41 85.47,533.26 85.84,534.11 86.22,534.96 86.60,535.79 86.98,536.62 87.37,537.44 87.76,538.25 88.16,539.06 88.56,539.85 88.96,540.65 89.37,541.43 89.78,542.21 90.20,542.98 90.61,543.74 91.04,544.49 91.47,545.24 91.90,545.99 92.34,546.72 92.78,547.45 93.22,548.18 93.67,548.89 94.13,549.60 94.59,550.31 95.05,551.00 95.52,551.70 95.99,552.38 96.47,553.06 96.95,553.73 97.44,554.40 97.93,555.06 98.43,555.71 98.93,556.36 99.44,557.01 99.95,557.64 100.47,558.28 100.99,558.90 101.52,559.52 102.06,560.14 102.59,560.75 103.14,561.35 103.69,561.95 104.24,562.54 104.80,563.13 105.37,563.72 105.94,564.29 106.52,564.86 107.10,565.43 107.69,565.99 108.29,566.55 108.89,567.10 109.50,567.65 110.11,568.19 110.73,568.73 111.36,569.26 111.99,569.79 112.63,570.31 113.27,570.83 113.93,571.35 114.58,571.86 115.25,572.36 115.92,572.86 116.60,573.36 117.28,573.85 117.97,574.34 118.67,574.82 119.38,575.30 120.09,575.77 120.81,576.24 121.54,576.71 122.27,577.17 123.01,577.62 123.76,578.08 124.52,578.53 125.29,578.97 126.06,579.41 126.84,579.85 127.62,580.28 128.42,580.71 129.22,581.14 130.04,581.56 130.86,581.98 131.68,582.39 132.52,582.80 133.36,583.21 134.22,583.61 135.08,584.01 135.95,584.41 136.83,584.80 137.72,585.19 138.61,585.58 139.52,585.96 140.44,586.34 141.36,586.71" fill="none" stroke="#70AD47" stroke-width="1.35" stroke-dasharray="0.01 2.4" stroke-linecap="round"/>
<polyline points="56.80,599.51 56.90,599.62 57.00,599.74 57.10,599.85 57.20,599.96 57.31,600.07 57.41,600.18 57.52,600.29 57.62,600.40 57.73,600.50 57.84,600.61 57.95,600.72 58.07,600.83 58.18,600.93 58.30,601.04 58.41,601.15 58.53,601.25 58.65,601.36 58.77,601.46 58.89,601.57 59.01,601.67 59.14,601.77 59.27,601.88 59.39,601.98 59.52,602.08 59.65,602.18 59.79,602.29 59.92,602.39 60.06,602.49 60.19,602.59 60.33,602.69 60.47,602.79 60.61,602.89 60.76,602.99 60.90,603.08 61.05,603.18 61.20,603.28 61.35,603.38 61.50,603.47 61.66,603.57 61.81,603.67 61.97,603.76 62.13,603.86 62.29,603.95 62.46,604.05 62.62,604.14 62.79,604.24 62.96,604.33 63.13,604.42 63.30,604.52 63.48,604.61 63.66,604.70 63.84,604.79 64.02,604.88 64.20,604.97 64.39,605.07 64.58,605.16 64.77,605.25 64.96,605.34 65.15,605.42 65.35,605.51 65.55,605.60 65.75,605.69 65.96,605.78 66.16,605.87 66.37,605.95 66.58,606.04 66.80,606.13 67.01,606.21 67.23,606.30 67.45,606.38 67.68,606.47 67.91,606.55 68.14,606.64 68.37,606.72 68.60,606.81 68.84,606.89 69.08,606.97 69.32,607.06 69.57,607.14 69.82,607.22 70.07,607.30 70.33,607.39 70.58,607.47 70.85,607.55 71.11,607.63 71.38,607.71 71.65,607.79 71.92,607.87 72.20,607.95 72.48,608.03 72.76,608.11 73.05,608.18 73.34,608.26 73.63,608.34 73.93,608.42 74.23,608.50 74.53,608.57 74.84,608.65 75.15,608.73 75.47,608.80 75.79,608.88 76.11,608.95 76.43,609.03 76.76,609.10 77.10,609.18 77.44,609.25 77.78,609.33 78.12,609.40 78.47,609.47 78.83,609.55 79.19,609.62 79.55,609.69 79.91,609.77 80.29,609.84 80.66,609.91 81.04,609.98 81.42,610.05 81.81,610.12 82.21,610.19 82.60,610.26 83.01,610.33 83.41,610.40 83.83,610.47 84.24,610.54 84.67,610.61 85.09,610.68 85.52,610.75 85.96,610.82 86.40,610.89 86.85,610.95 87.30,611.02 87.76,611.09 88.22,611.15 88.69,611.22 89.17,611.29 89.65,611.35 90.13,611.42 90.62,611.49 91.12,611.55 91.62,611.62 92.13,611.68 92.65,611.75 93.17,611.81 93.69,611.87 94.23,611.94 94.77,612.00 95.31,612.06 95.86,612.13 96.42,612.19 96.99,612.25 97.56,612.32 98.14,612.38 98.72,612.44 99.32,612.50 99.92,612.56 100.52,612.62 101.14,612.69 101.76,612.75 102.38,612.81 103.02,612.87 103.66,612.93 104.31,612.99 104.97,613.05 105.64,613.11 106.31,613.16 106.99,613.22 107.68,613.28 108.38,613.34 109.09,613.40 109.80,613.46 110.52,613.51 111.25,613.57 111.99,613.63 112.74,613.69 113.50,613.74 114.27,613.80 115.04,613.86 115.82,613.91 116.62,613.97 117.42,614.02 118.23,614.08 119.06,614.13 119.89,614.19 120.73,614.24 121.58,614.30 122.44,614.35 123.31,614.41 124.19,614.46 125.09,614.52 125.99,614.57 126.90,614.62 127.83,614.68 128.76,614.73 129.71,614.78 130.66,614.83 131.63,614.89 132.61,614.94 133.60,614.99 134.61,615.04 135.62,615.09" fill="none" stroke="#255E91" stroke-width="1.35" stroke-dasharray="0.01 2.4" stroke-linecap="round"/>
<polyline points="53.86,594.27 53.90,594.42 53.94,594.58 53.98,594.74 54.03,594.89 54.07,595.05 54.11,595.20 54.15,595.35 54.20,595.51 54.24,595.66 54.29,595.81 54.33,595.96 54.37,596.11 54.42,596.26 54.46,596.41 54.51,596.56 54.56,596.70 54.60,596.85 54.65,597.00 54.70,597.14 54.74,597.29 54.79,597.43 54.84,597.57 54.89,597.71 54.94,597.86 54.99,598.00 55.04,598.14 55.09,598.28 55.14,598.42 55.19,598.56 55.24,598.69 55.29,598.83 55.34,598.97 55.39,599.10 55.45,599.24 55.50,599.37 55.55,599.51 55.61,599.64 55.66,599.77 55.72,599.91 55.77,600.04 55.83,600.17 55.88,600.30 55.94,600.43 56.00,600.56 56.05,600.69 56.11,600.81 56.17,600.94 56.23,601.07 56.29,601.20 56.35,601.32 56.41,601.45 56.47,601.57 56.53,601.69 56.59,601.82 56.65,601.94 56.71,602.06 56.78,602.18 56.84,602.31 56.90,602.43 56.97,602.55 57.03,602.66 57.10,602.78 57.16,602.90 57.23,603.02 57.29,603.14 57.36,603.25 57.43,603.37 57.50,603.49 57.56,603.60 57.63,603.71 57.70,603.83 57.77,603.94 57.84,604.06 57.92,604.17 57.99,604.28 58.06,604.39 58.13,604.50 58.21,604.61 58.28,604.72 58.35,604.83 58.43,604.94 58.50,605.05 58.58,605.16 58.66,605.26 58.73,605.37 58.81,605.48 58.89,605.58 58.97,605.69 59.05,605.79 59.13,605.90 59.21,606.00 59.29,606.10 59.37,606.21 59.46,606.31 59.54,606.41 59.62,606.51 59.71,606.61 59.79,606.71 59.88,606.81 59.97,606.91 60.05,607.01 60.14,607.11 60.23,607.21 60.32,607.31 60.41,607.40 60.50,607.50 60.59,607.60 60.68,607.69 60.77,607.79 60.87,607.88 60.96,607.98 61.06,608.07 61.15,608.17 61.25,608.26 61.34,608.35 61.44,608.45 61.54,608.54 61.64,608.63 61.74,608.72 61.84,608.81 61.94,608.90 62.04,608.99 62.15,609.08 62.25,609.17 62.35,609.26 62.46,609.35 62.56,609.44 62.67,609.52 62.78,609.61 62.89,609.70 63.00,609.78 63.11,609.87 63.22,609.95 63.33,610.04 63.44,610.12 63.55,610.21 63.67,610.29 63.78,610.38 63.90,610.46 64.02,610.54 64.13,610.62 64.25,610.71 64.37,610.79 64.49,610.87 64.61,610.95 64.74,611.03 64.86,611.11 64.98,611.19 65.11,611.27 65.23,611.35 65.36,611.43 65.49,611.50 65.62,611.58 65.75,611.66 65.88,611.74 66.01,611.81 66.14,611.89 66.28,611.97 66.41,612.04 66.55,612.12 66.68,612.19 66.82,612.27 66.96,612.34 67.10,612.41 67.24,612.49 67.38,612.56 67.52,612.63 67.67,612.71 67.81,612.78 67.96,612.85 68.11,612.92 68.26,612.99 68.41,613.07 68.56,613.14 68.71,613.21 68.86,613.28 69.02,613.35 69.17,613.42 69.33,613.48 69.48,613.55 69.64,613.62 69.80,613.69 69.96,613.76 70.13,613.82 70.29,613.89 70.46,613.96 70.62,614.02 70.79,614.09 70.96,614.16 71.13,614.22 71.30,614.29 71.47,614.35 71.65,614.42 71.82,614.48 72.00,614.55 72.18,614.61 72.35,614.67 72.53,614.74 72.72,614.80 72.90,614.86" fill="none" stroke="#9E480E" stroke-width="1.0" stroke-dasharray="0.01 1.2" stroke-linecap="round"/>
<circle cx="72.90" cy="376.84" r="2.3" fill="#4472C4"/>
<circle cx="98.38" cy="499.58" r="2.3" fill="#4472C4"/>
<circle cx="299.14" cy="587.99" r="2.3" fill="#4472C4"/>
<circle cx="60.58" cy="376.84" r="2.3" fill="#70AD47"/>
<circle cx="74.86" cy="499.58" r="2.3" fill="#70AD47"/>
<circle cx="141.36" cy="587.99" r="2.3" fill="#70AD47"/>
<circle cx="56.24" cy="602.56" r="2.3" fill="#255E91"/>
<circle cx="135.62" cy="615.73" r="2.3" fill="#255E91"/>
<circle cx="53.86" cy="594.17" r="2.3" fill="#9E480E"/>
<circle cx="55.40" cy="602.56" r="2.3" fill="#9E480E"/>
<circle cx="72.90" cy="615.73" r="2.3" fill="#9E480E"/>
<circle cx="100.10" cy="350.10" r="2.2" fill="#4472C4"/>
<text transform="translate(112.30 354.80) scale(1 1.06)" font-size="12.55" text-anchor="start" fill="#000" font-weight="normal"  stroke="#000" stroke-width="0.3">Casein (5%) wet condition- viscosity 5RMP,</text>
<text transform="translate(112.30 370.20) scale(1 1.06)" font-size="12.55" text-anchor="start" fill="#000" font-weight="normal"  stroke="#000" stroke-width="0.3">immediately</text>
<circle cx="100.10" cy="379.50" r="2.2" fill="#70AD47"/>
<text transform="translate(112.30 384.20) scale(1 1.06)" font-size="12.55" text-anchor="start" fill="#000" font-weight="normal"  stroke="#000" stroke-width="0.3">Casein (5%) wet condition- viscosity</text>
<text transform="translate(112.30 399.60) scale(1 1.06)" font-size="12.55" text-anchor="start" fill="#000" font-weight="normal"  stroke="#000" stroke-width="0.3">100RMP, immediately</text>
<circle cx="100.10" cy="408.90" r="2.2" fill="#255E91"/>
<text transform="translate(112.30 413.60) scale(1 1.06)" font-size="12.55" text-anchor="start" fill="#000" font-weight="normal"  stroke="#000" stroke-width="0.3">Casein (3% wet condition- viscosity 5RMP,</text>
<text transform="translate(112.30 429.00) scale(1 1.06)" font-size="12.55" text-anchor="start" fill="#000" font-weight="normal"  stroke="#000" stroke-width="0.3">immediately</text>
<circle cx="100.10" cy="438.30" r="2.2" fill="#9E480E"/>
<text transform="translate(112.30 443.00) scale(1 1.06)" font-size="12.55" text-anchor="start" fill="#000" font-weight="normal"  stroke="#000" stroke-width="0.3">Casien (3%) wet condition- viscosity</text>
<text transform="translate(112.30 458.40) scale(1 1.06)" font-size="12.55" text-anchor="start" fill="#000" font-weight="normal"  stroke="#000" stroke-width="0.3">100RMP, immediately</text>
<text transform="translate(119.50 481.00) scale(1 1.06)" font-size="9.9" text-anchor="start" fill="#62993E" font-weight="bold" stroke="#333" stroke-opacity="0.38" stroke-width="0.5" paint-order="stroke">y = 71779x<tspan font-size="7.7" dy="-3.6">-0.899</tspan></text>
<text transform="translate(128.00 493.60) scale(1 1.06)" font-size="9.9" text-anchor="start" fill="#62993E" font-weight="bold" stroke="#333" stroke-opacity="0.38" stroke-width="0.5" paint-order="stroke">R² = 0.9998</text>
<text transform="translate(255.00 563.60) scale(1 1.06)" font-size="9.9" text-anchor="start" fill="#2F6EAE" font-weight="bold" stroke="#333" stroke-opacity="0.38" stroke-width="0.5" paint-order="stroke">y = 64828x<tspan font-size="7.7" dy="-3.6">-0.771</tspan></text>
<text transform="translate(263.00 576.20) scale(1 1.06)" font-size="9.9" text-anchor="start" fill="#2F6EAE" font-weight="bold" stroke="#333" stroke-opacity="0.38" stroke-width="0.5" paint-order="stroke">R² = 0.9943</text>
<text transform="translate(77.50 584.00) scale(1 1.06)" font-size="9.9" text-anchor="start" fill="#B8101A" font-weight="bold" stroke="#333" stroke-opacity="0.38" stroke-width="0.5" paint-order="stroke">y = 1647x<tspan font-size="7.7" dy="-3.6">-0.619</tspan></text>
<text transform="translate(83.30 596.60) scale(1 1.06)" font-size="9.9" text-anchor="start" fill="#B8101A" font-weight="bold" stroke="#333" stroke-opacity="0.38" stroke-width="0.5" paint-order="stroke">R² = 0.9808</text>
<text transform="translate(157.00 614.00) scale(1 1.06)" font-size="9.9" text-anchor="start" fill="#1F4E79" font-weight="bold" stroke="#333" stroke-opacity="0.38" stroke-width="0.5" paint-order="stroke">y = 563.94x<tspan font-size="7.7" dy="-3.6">-0.333</tspan></text>
<text transform="translate(166.00 626.60) scale(1 1.06)" font-size="9.9" text-anchor="start" fill="#1F4E79" font-weight="bold" stroke="#333" stroke-opacity="0.38" stroke-width="0.5" paint-order="stroke">R² = 0.9779</text>
<line x1="389.60" y1="349.40" x2="389.60" y2="623.80" stroke="#d9d9d9" stroke-width="1" />
<line x1="389.60" y1="623.80" x2="665.60" y2="623.80" stroke="#d9d9d9" stroke-width="1" />
<text transform="translate(381.50 626.80) scale(1 1.06)" font-size="9.7" text-anchor="end" fill="#000" font-weight="normal"  stroke="#000" stroke-width="0.3">3000</text>
<text transform="translate(381.50 592.53) scale(1 1.06)" font-size="9.7" text-anchor="end" fill="#000" font-weight="normal"  stroke="#000" stroke-width="0.3">3500</text>
<text transform="translate(381.50 558.25) scale(1 1.06)" font-size="9.7" text-anchor="end" fill="#000" font-weight="normal"  stroke="#000" stroke-width="0.3">4000</text>
<text transform="translate(381.50 523.98) scale(1 1.06)" font-size="9.7" text-anchor="end" fill="#000" font-weight="normal"  stroke="#000" stroke-width="0.3">4500</text>
<text transform="translate(381.50 489.70) scale(1 1.06)" font-size="9.7" text-anchor="end" fill="#000" font-weight="normal"  stroke="#000" stroke-width="0.3">5000</text>
<text transform="translate(381.50 455.42) scale(1 1.06)" font-size="9.7" text-anchor="end" fill="#000" font-weight="normal"  stroke="#000" stroke-width="0.3">5500</text>
<text transform="translate(381.50 421.15) scale(1 1.06)" font-size="9.7" text-anchor="end" fill="#000" font-weight="normal"  stroke="#000" stroke-width="0.3">6000</text>
<text transform="translate(381.50 386.88) scale(1 1.06)" font-size="9.7" text-anchor="end" fill="#000" font-weight="normal"  stroke="#000" stroke-width="0.3">6500</text>
<text transform="translate(381.50 352.60) scale(1 1.06)" font-size="9.7" text-anchor="end" fill="#000" font-weight="normal"  stroke="#000" stroke-width="0.3">7000</text>
<text transform="translate(389.60 640.20) scale(1 1.06)" font-size="9.7" text-anchor="middle" fill="#000" font-weight="normal"  stroke="#000" stroke-width="0.3">0</text>
<text transform="translate(444.80 640.20) scale(1 1.06)" font-size="9.7" text-anchor="middle" fill="#000" font-weight="normal"  stroke="#000" stroke-width="0.3">50</text>
<text transform="translate(500.00 640.20) scale(1 1.06)" font-size="9.7" text-anchor="middle" fill="#000" font-weight="normal"  stroke="#000" stroke-width="0.3">100</text>
<text transform="translate(555.20 640.20) scale(1 1.06)" font-size="9.7" text-anchor="middle" fill="#000" font-weight="normal"  stroke="#000" stroke-width="0.3">150</text>
<text transform="translate(610.40 640.20) scale(1 1.06)" font-size="9.7" text-anchor="middle" fill="#000" font-weight="normal"  stroke="#000" stroke-width="0.3">200</text>
<text transform="translate(665.60 640.20) scale(1 1.06)" font-size="9.7" text-anchor="middle" fill="#000" font-weight="normal"  stroke="#000" stroke-width="0.3">250</text>
<text transform="translate(527.00 658.80) scale(1 1.06)" font-size="12.3" text-anchor="middle" fill="#000" font-weight="normal"  stroke="#000" stroke-width="0.3">Viscosity [cp]</text>
<text x="357.20" y="488.00" font-size="13.0" text-anchor="middle" fill="#000" font-weight="normal" transform="rotate(-90 357.2 488)" stroke="#000" stroke-width="0.3">Strength&#160;&#160;[kPa]</text>
<text transform="translate(518.30 673.20) scale(1 1.06)" font-size="10.5" text-anchor="middle" fill="#000" font-weight="normal"  stroke="#000" stroke-width="0.3">(d)</text>
<polyline points="455.29,443.54 586.88,546.37" fill="none" stroke="#5B9BD5" stroke-width="1.35" stroke-dasharray="0.01 2.4" stroke-linecap="round"/>
<polyline points="488.08,452.47 629.17,548.78" fill="none" stroke="#ED7D31" stroke-width="1.35" stroke-dasharray="0.01 2.4" stroke-linecap="round"/>
<polyline points="455.29,386.53 586.88,406.51" fill="none" stroke="#8e8e8e" stroke-width="1.35" stroke-dasharray="0.01 2.4" stroke-linecap="round"/>
<polyline points="488.08,388.41 629.17,406.72" fill="none" stroke="#FFC000" stroke-width="1.35" stroke-dasharray="0.01 2.4" stroke-linecap="round"/>
<circle cx="455.40" cy="450.90" r="2.3" fill="#5B9BD5"/>
<circle cx="488.08" cy="459.92" r="2.3" fill="#5B9BD5"/>
<circle cx="586.88" cy="549.46" r="2.3" fill="#5B9BD5"/>
<circle cx="488.08" cy="450.90" r="2.3" fill="#ED7D31"/>
<circle cx="496.25" cy="459.92" r="2.3" fill="#ED7D31"/>
<circle cx="629.17" cy="549.46" r="2.3" fill="#ED7D31"/>
<circle cx="455.40" cy="386.79" r="2.3" fill="#A5A5A5"/>
<circle cx="488.08" cy="390.55" r="2.3" fill="#A5A5A5"/>
<circle cx="586.88" cy="406.47" r="2.3" fill="#A5A5A5"/>
<circle cx="488.08" cy="386.79" r="2.3" fill="#FFC000"/>
<circle cx="496.25" cy="390.55" r="2.3" fill="#FFC000"/>
<circle cx="629.17" cy="406.47" r="2.3" fill="#FFC000"/>
<circle cx="406.80" cy="563.20" r="2.2" fill="#5B9BD5"/>
<text transform="translate(412.70 567.40) scale(1 1.06)" font-size="12.4" text-anchor="start" fill="#000" font-weight="normal"  stroke="#000" stroke-width="0.3">Sand- viscosity 5RMP, immediately</text>
<circle cx="406.80" cy="579.95" r="2.2" fill="#ED7D31"/>
<text transform="translate(412.70 584.15) scale(1 1.06)" font-size="12.4" text-anchor="start" fill="#000" font-weight="normal"  stroke="#000" stroke-width="0.3">Sand- viscosity 100RMP, immediately</text>
<circle cx="406.80" cy="596.70" r="2.2" fill="#A5A5A5"/>
<text transform="translate(412.70 600.90) scale(1 1.06)" font-size="12.4" text-anchor="start" fill="#000" font-weight="normal"  stroke="#000" stroke-width="0.3">Natural soil- viscosity 5RMP, immediately</text>
<circle cx="406.80" cy="613.45" r="2.2" fill="#FFC000"/>
<text transform="translate(412.70 617.65) scale(1 1.06)" font-size="12.4" text-anchor="start" fill="#000" font-weight="normal"  stroke="#000" stroke-width="0.3">Natural soil- viscosity 100RMP, immediately</text>
<text transform="translate(552.00 371.00) scale(1 1.06)" font-size="9.9" text-anchor="start" fill="#E2AC00" font-weight="bold" stroke="#333" stroke-opacity="0.38" stroke-width="0.5" paint-order="stroke">y = -2.0959x + 6616.2</text>
<text transform="translate(572.00 383.60) scale(1 1.06)" font-size="9.9" text-anchor="start" fill="#E2AC00" font-weight="bold" stroke="#333" stroke-opacity="0.38" stroke-width="0.5" paint-order="stroke">R² = 0.9781</text>
<text transform="translate(467.00 408.00) scale(1 1.06)" font-size="9.9" text-anchor="start" fill="#909090" font-weight="bold" stroke="#333" stroke-opacity="0.38" stroke-width="0.5" paint-order="stroke">y = -2.4519x + 6602.6</text>
<text transform="translate(487.00 420.60) scale(1 1.06)" font-size="9.9" text-anchor="start" fill="#909090" font-weight="bold" stroke="#333" stroke-opacity="0.38" stroke-width="0.5" paint-order="stroke">R² = 0.9979</text>
<text transform="translate(554.00 473.00) scale(1 1.06)" font-size="9.9" text-anchor="start" fill="#ED7D31" font-weight="bold" stroke="#333" stroke-opacity="0.38" stroke-width="0.5" paint-order="stroke">y = -11.026x + 6475.6</text>
<text transform="translate(574.00 485.60) scale(1 1.06)" font-size="9.9" text-anchor="start" fill="#ED7D31" font-weight="bold" stroke="#333" stroke-opacity="0.38" stroke-width="0.5" paint-order="stroke">R² = 0.9986</text>
<text transform="translate(404.00 501.00) scale(1 1.06)" font-size="9.9" text-anchor="start" fill="#5B9BD5" font-weight="bold" stroke="#333" stroke-opacity="0.38" stroke-width="0.5" paint-order="stroke">y = -12.621x + 6373.6</text>
<text transform="translate(424.00 513.60) scale(1 1.06)" font-size="9.9" text-anchor="start" fill="#5B9BD5" font-weight="bold" stroke="#333" stroke-opacity="0.38" stroke-width="0.5" paint-order="stroke">R² = 0.9754</text>
</svg>
</body></html>
